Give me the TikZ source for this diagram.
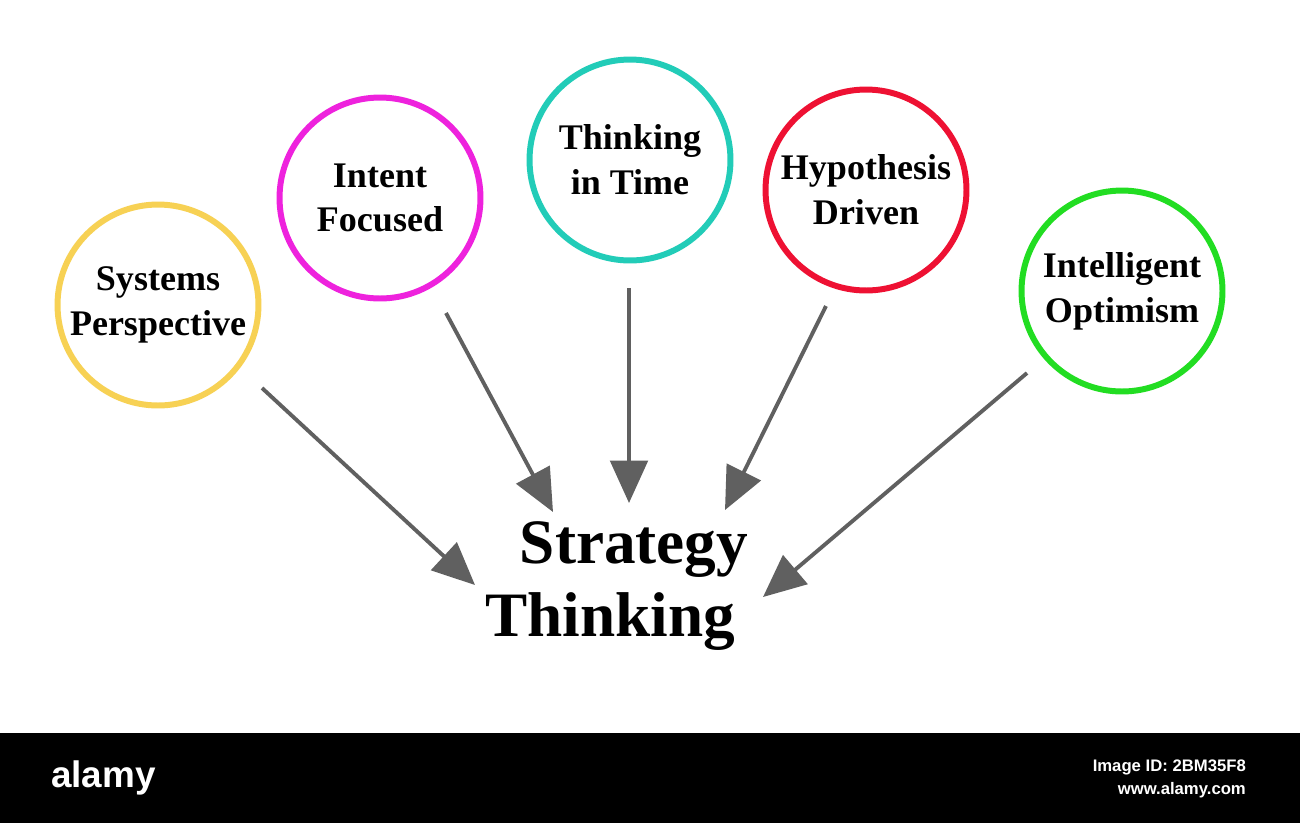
\documentclass[tikz,border=0pt]{standalone}
\usepackage{fontspec}
\setmainfont{Liberation Serif}
\newfontfamily\wmfont{Liberation Sans}
\usetikzlibrary{arrows.meta}
\definecolor{cy}{HTML}{F7D154}
\definecolor{cm}{HTML}{EE22DD}
\definecolor{ct}{HTML}{22CCB8}
\definecolor{cr}{HTML}{EE1133}
\definecolor{cg}{HTML}{22DD22}
\definecolor{ar}{HTML}{606060}
\begin{document}
\begin{tikzpicture}[x=0.02cm,y=-0.02cm,
  circ/.style={circle,line width=3.4pt,minimum size=4.02cm,inner sep=0pt,align=center,font=\fontsize{20.5}{25.5}\selectfont\bfseries},
  big/.style={font=\fontsize{36}{40}\selectfont\bfseries},
  arr/.style={draw=ar,line width=2.2pt,-{Triangle[length=0.85cm,width=0.75cm,fill=ar]}}]
\useasboundingbox (0,0) rectangle (1300,823);
\fill[white] (0,0) rectangle (1300,733);
\fill[black] (0,733) rectangle (1300,823);
\node[circ,draw=cy] (c1) at (158,305) {Systems\\Perspective};
\node[circ,draw=cm] (c2) at (380,198) {Intent\\Focused};
\node[circ,draw=ct] (c3) at (630,160) {Thinking\\in Time};
\node[circ,draw=cr] (c4) at (866,190) {Hypothesis\\Driven};
\node[circ,draw=cg] (c5) at (1122,291) {Intelligent\\Optimism};
\node[big] (s1) at (634,550) {Strategy};
\node[big] (s2) at (610,622) {Thinking};
\coordinate (a1s) at (262,388); \coordinate (a1e) at (475,585);
\coordinate (a2s) at (446,313); \coordinate (a2e) at (553,512);
\coordinate (a3s) at (629,288); \coordinate (a3e) at (629,503);
\coordinate (a4s) at (826,306); \coordinate (a4e) at (725,510);
\coordinate (a5s) at (1027,373); \coordinate (a5e) at (763,597);
\draw[arr] (a1s) -- (a1e);
\draw[arr] (a2s) -- (a2e);
\draw[arr] (a3s) -- (a3e);
\draw[arr] (a4s) -- (a4e);
\draw[arr] (a5s) -- (a5e);
\node[text=white,font=\wmfont\fontsize{21}{24}\selectfont\bfseries,anchor=west] (wm) at (45,778) {alamy};
\node[text=white,font=\wmfont\fontsize{9.5}{12}\selectfont\bfseries,anchor=east] (id) at (1252,767) {Image ID: 2BM35F8};
\node[text=white,font=\wmfont\fontsize{9.5}{12}\selectfont\bfseries,anchor=east] (url) at (1252,790) {www.alamy.com};
\end{tikzpicture}
\end{document}
